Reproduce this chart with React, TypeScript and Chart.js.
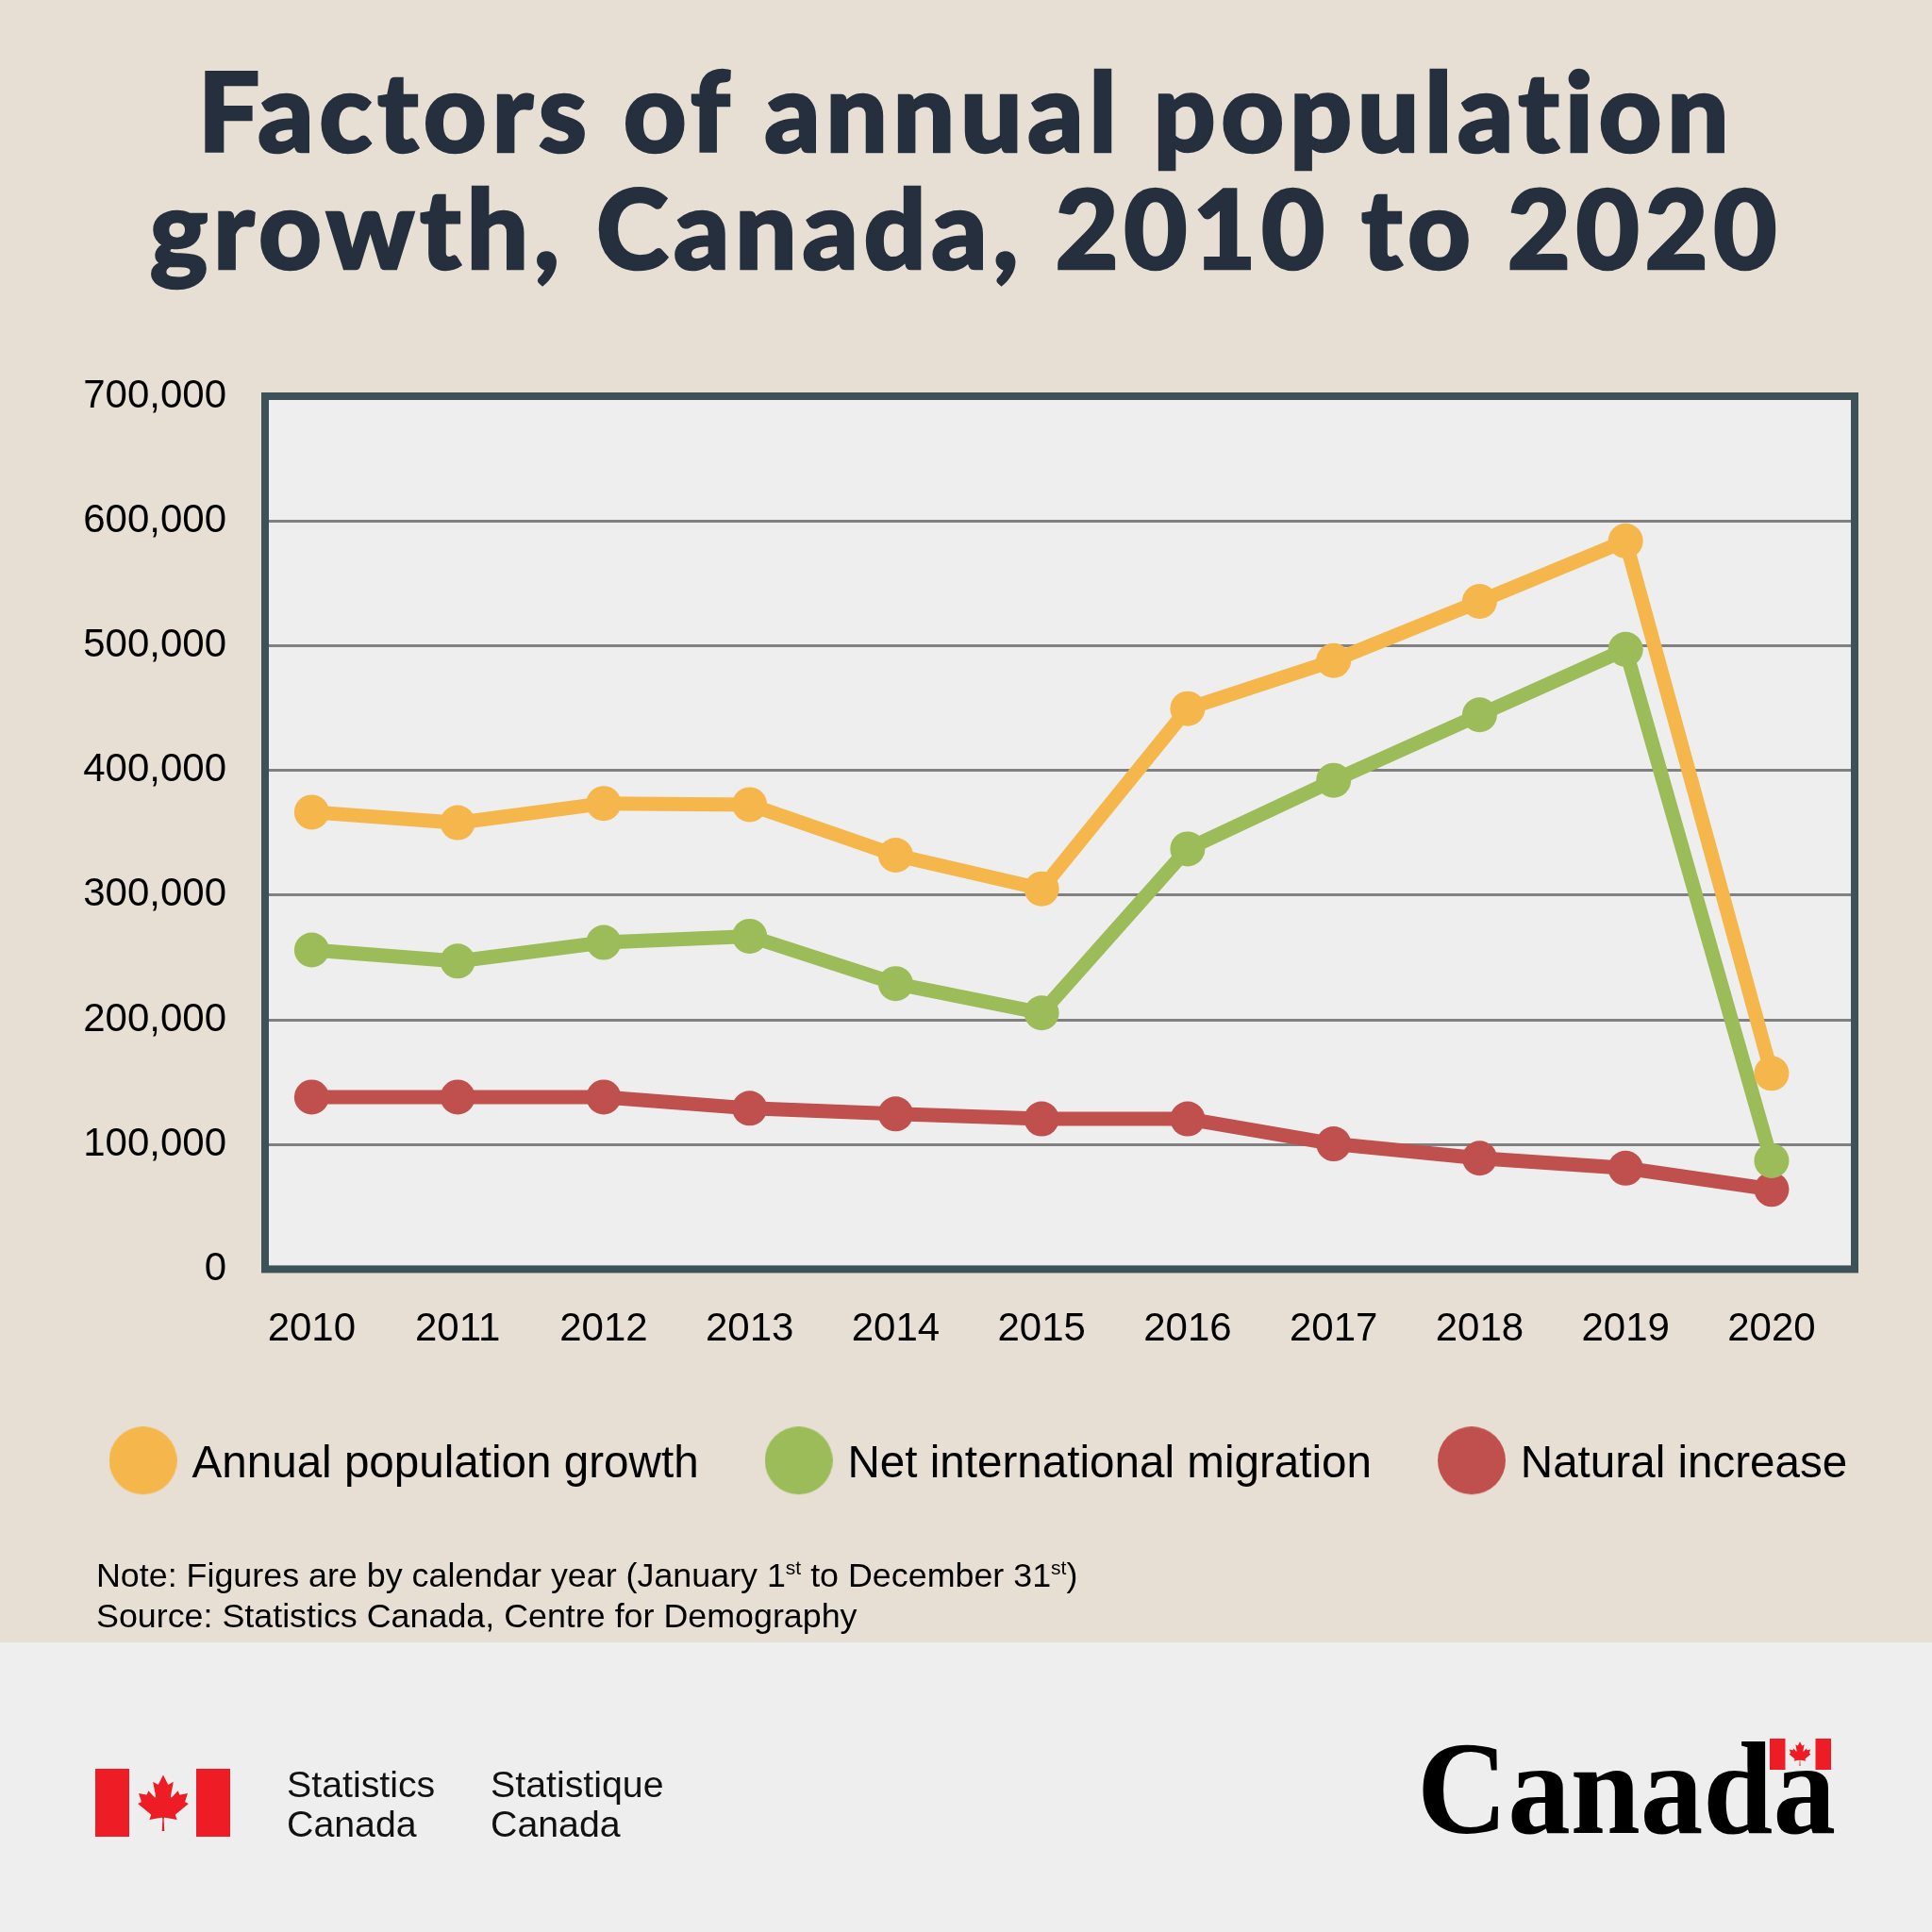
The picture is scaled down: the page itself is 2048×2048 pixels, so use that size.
import React, { useEffect, useRef } from "react";
import { Chart, registerables } from "chart.js";

Chart.register(...registerables);

const years = [2010, 2011, 2012, 2013, 2014, 2015, 2016, 2017, 2018, 2019, 2020];
const annualGrowth = [366500, 358000, 373500, 372500, 332000, 305000, 449500, 488000, 535500, 584000, 157000];
const netMigration = [256000, 247000, 262000, 267000, 229000, 205500, 337000, 392000, 444500, 497000, 87000];
const naturalIncrease = [138000, 138000, 138000, 129000, 124500, 120500, 120500, 100500, 89000, 81000, 64000];
const seriesNames = ["Annual population growth", "Net international migration", "Natural increase"];
const titleLines = ["Factors of annual population", "growth, Canada, 2010 to 2020"];

const BAND = "#e8dfd4";
const PANEL = "#eeeeee";
const FRAME = "#3d5159";
const LEAF =
  "M4890 4430l-45-863a95 95 0 0 1 111-98l859 151-116-320a65 65 0 0 1 20-73l941-762-212-99a65 65 0 0 1-34-79l186-572-542 115a65 65 0 0 1-73-38l-105-247-423 454a65 65 0 0 1-111-57l204-1052-327 189a65 65 0 0 1-91-27l-332-652-332 652a65 65 0 0 1-91 27l-327-189 204 1052a65 65 0 0 1-111 57l-423-454-105 247a65 65 0 0 1-73 38l-542-115 186 572a65 65 0 0 1-34 79l-212 99 941 762a65 65 0 0 1 20 73l-116 320 859-151a95 95 0 0 1 111 98l-45 863z";

const panelPlugin = {
  id: "panel",
  afterLayout(chart: any) {
    // the legend clips to its own box; give the large markers room below
    chart.legend.bottom += 40;
  },
  beforeDraw(chart: any) {
    const { ctx, chartArea: a } = chart;
    ctx.save();
    ctx.fillStyle = PANEL;
    ctx.fillRect(a.left, a.top, a.width, a.height);
    ctx.restore();
  },
  afterDraw(chart: any) {
    const { ctx, chartArea: a } = chart;
    ctx.save();
    ctx.strokeStyle = FRAME;
    ctx.lineWidth = 8;
    ctx.strokeRect(a.left, a.top, a.width, a.height);
    ctx.restore();
  },
};

const legendDot = (color: string) => {
  const c = document.createElement("canvas");
  c.width = 72;
  c.height = 82;
  const g = c.getContext("2d")!;
  g.fillStyle = color;
  g.beginPath();
  g.arc(36, 36, 36, 0, Math.PI * 2);
  g.fill();
  return c;
};

const line = (label: string, values: number[], color: string) => ({
  label,
  data: values.map((y, i) => ({ x: years[i], y })),
  borderColor: color,
  backgroundColor: color,
  pointBackgroundColor: color,
  pointBorderColor: color,
  borderWidth: 15,
  pointRadius: 18.5,
  pointBorderWidth: 0,
  tension: 0,
});

function Flag({ x, y, w, h, bar, leaf }: any) {
  return (
    <svg style={{ position: "absolute", left: x, top: y }} width={w} height={h} viewBox={`0 0 ${w} ${h}`}>
      <rect x={0} y={0} width={bar} height={h} fill="#ee1c25" />
      <rect x={w - bar} y={0} width={bar} height={h} fill="#ee1c25" />
      <svg x={leaf.x} y={leaf.y} width={leaf.w} height={leaf.h} viewBox="2860 370 3880 4060" preserveAspectRatio="none">
        <path d={LEAF} fill="#ee1c25" />
      </svg>
    </svg>
  );
}

const abs = (left: number, top: number, extra: any = {}) => ({ position: "absolute", left, top, whiteSpace: "nowrap", ...extra });

export default function App() {
  const ref = useRef<HTMLCanvasElement>(null);
  useEffect(() => {
    const chart = new Chart(ref.current!, {
      type: "line",
      data: {
        datasets: [
          line(seriesNames[0], annualGrowth, "#f5b64c"),
          line(seriesNames[1], netMigration, "#9cbc59"),
          line(seriesNames[2], naturalIncrease, "#c0504d"),
        ],
      },
      options: {
        responsive: false,
        devicePixelRatio: 1,
        animation: false,
        layout: { padding: { top: 420, left: 34, right: 0, bottom: 461 } },
        plugins: {
          tooltip: { enabled: false },
          title: { display: false },
          legend: {
            position: "bottom",
            labels: {
              usePointStyle: true,
              pointStyleWidth: 56,
              padding: 78,
              color: "#000",
              font: { family: "'Liberation Sans', Arial, sans-serif", size: 47.6 },
              generateLabels: (c: any) =>
                c.data.datasets.map((d: any, i: number) => ({
                  text: d.label,
                  fillStyle: d.backgroundColor,
                  strokeStyle: d.backgroundColor,
                  lineWidth: 0,
                  pointStyle: legendDot(d.backgroundColor),
                  hidden: false,
                  datasetIndex: i,
                })),
            },
          },
        },
        scales: {
          x: {
            type: "linear",
            min: 2009.681,
            max: 2020.569,
            border: { display: false },
            grid: { display: false, drawTicks: false },
            afterFit: (s: any) => {
              s.height = 106;
            },
            ticks: {
              stepSize: 1,
              includeBounds: false,
              padding: 39,
              maxRotation: 0,
              autoSkip: false,
              color: "#000",
              font: { family: "'Liberation Sans', Arial, sans-serif", size: 42 },
              callback: (v: any) => String(v),
            },
          },
          y: {
            min: 0,
            max: 700000,
            border: { display: false },
            grid: { color: "#808080", lineWidth: 3, drawTicks: false },
            afterFit: (s: any) => {
              s.width = 247;
            },
            ticks: {
              stepSize: 100000,
              padding: 41,
              color: "#000",
              font: { family: "'Liberation Sans', Arial, sans-serif", size: 42 },
              callback: (v: any) => Number(v).toLocaleString("en-US"),
            },
          },
          rightGutter: {
            position: "right",
            min: 0,
            max: 700000,
            border: { display: false },
            grid: { display: false, drawTicks: false },
            ticks: { display: false },
            afterFit: (s: any) => {
              s.width = 82;
            },
          },
        },
      } as any,
      plugins: [panelPlugin],
    } as any);
    return () => chart.destroy();
  }, []);

  const sans = "'Liberation Sans', Arial, sans-serif";
  return (
    <div style={{ position: "relative", width: 2048, height: 2048, overflow: "hidden", background: BAND }}>
      <style>{`body{margin:0}`}</style>
      <div style={{ position: "absolute", left: 0, top: 1741, width: 2048, height: 307, background: PANEL }} />
      {titleLines.map((t, i) => (
        <div
          key={t}
          style={abs(0, 47 + i * 124, {
            width: 2048,
            textAlign: "center",
            fontFamily: "Lato, sans-serif",
            fontWeight: 900,
            fontSize: 116,
            lineHeight: "140px",
            letterSpacing: 5.6,
            fontVariantLigatures: "none",
            WebkitTextStroke: "2.5px #262f3d",
            color: "#262f3d",
          }) as any}
        >
          {t}
        </div>
      ))}
      <canvas ref={ref} width={2048} height={2048} style={{ position: "absolute", left: 0, top: 0, display: "block" }} />
      <div style={abs(102, 1649, { fontFamily: sans, fontSize: 35.85, lineHeight: "43px", color: "#000" }) as any}>
        <div>
          Note: Figures are by calendar year (January 1<sup style={{ fontSize: 21, lineHeight: 0 }}>st</sup> to December 31
          <sup style={{ fontSize: 21, lineHeight: 0 }}>st</sup>)
        </div>
        <div>Source: Statistics Canada, Centre for Demography</div>
      </div>
      <Flag x={101} y={1875} w={143} h={72} bar={36} leaf={{ x: 44, y: 6, w: 56, h: 60 }} />
      <div style={abs(304, 1870, { fontFamily: sans, fontSize: 39.3, lineHeight: "42px", color: "#111" }) as any}>
        Statistics
        <br />
        Canada
      </div>
      <div style={abs(520, 1870, { fontFamily: sans, fontSize: 39.3, lineHeight: "42px", color: "#111" }) as any}>
        Statistique
        <br />
        Canada
      </div>
      <div
        style={abs(1502, 1811, {
          fontFamily: "'Liberation Serif', serif",
          fontWeight: 700,
          fontSize: 140,
          lineHeight: "170px",
          color: "#000",
          transformOrigin: "0 0",
          transform: "scaleX(0.951)",
        }) as any}
      >
        Canada
      </div>
      <Flag x={1876} y={1843} w={65} h={33} bar={16.5} leaf={{ x: 20, y: 3, w: 24, h: 26 }} />
    </div>
  );
}
